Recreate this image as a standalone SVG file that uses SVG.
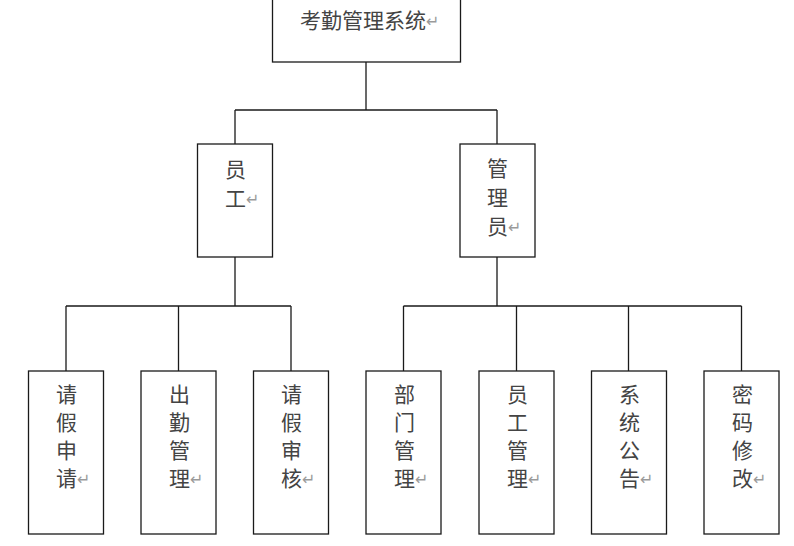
<svg xmlns="http://www.w3.org/2000/svg" width="794" height="546" viewBox="0 0 794 546">
<style>
.box{fill:#fff;stroke:#1a1a1a;stroke-width:1.3}
.ln{fill:none;stroke:#1a1a1a;stroke-width:1.3}
.t{font-family:"Noto Sans CJK SC","Liberation Sans",sans-serif;font-size:21px;fill:#444}
.r{font-family:"DejaVu Sans","Liberation Sans",sans-serif;font-size:16px;fill:#9a9a9a}
</style>
<rect width="794" height="546" fill="#fff"/>
<g id="connectors">
<path class="ln" d="M366 62V110M235 110H497M235 110V144M497 110V144"/>
<path class="ln" d="M235 257V306M66 306H291M66 306V371M178.5 306V371M291 306V371"/>
<path class="ln" d="M497 257V306M403.5 306H741.5M403.5 306V371M516.5 306V371M628.5 306V371M741.5 306V371"/>
</g>
<g id="root">
<rect class="box" x="272.5" y="-2" width="188" height="64"/>
<text class="t" x="300" y="28">考勤管理系统<tspan class="r" dy="-1">↵</tspan></text>
</g>
<g id="employee">
<rect class="box" x="197.5" y="144" width="75" height="113"/>
<text class="t" x="225" y="176.5">员<tspan x="225" dy="29">工</tspan><tspan class="r" dy="-1">↵</tspan></text>
</g>
<g id="admin">
<rect class="box" x="460" y="144" width="75" height="113"/>
<text class="t" x="487" y="176">管<tspan x="487" dy="29">理</tspan><tspan x="487" dy="29">员</tspan><tspan class="r" dy="-1">↵</tspan></text>
</g>
<g id="leave-apply">
<rect class="box" x="28.5" y="371" width="75" height="163"/>
<text class="t" x="56" y="401.5">请<tspan x="56" dy="28.3">假</tspan><tspan x="56" dy="28.3">申</tspan><tspan x="56" dy="28.3">请</tspan><tspan class="r" dy="-1">↵</tspan></text>
</g>
<g id="attendance">
<rect class="box" x="141" y="371" width="75" height="163"/>
<text class="t" x="169" y="401.5">出<tspan x="169" dy="28.3">勤</tspan><tspan x="169" dy="28.3">管</tspan><tspan x="169" dy="28.3">理</tspan><tspan class="r" dy="-1">↵</tspan></text>
</g>
<g id="leave-review">
<rect class="box" x="253.5" y="371" width="75" height="163"/>
<text class="t" x="281" y="401.5">请<tspan x="281" dy="28.3">假</tspan><tspan x="281" dy="28.3">审</tspan><tspan x="281" dy="28.3">核</tspan><tspan class="r" dy="-1">↵</tspan></text>
</g>
<g id="dept">
<rect class="box" x="366" y="371" width="75" height="163"/>
<text class="t" x="394" y="401.5">部<tspan x="394" dy="28.3">门</tspan><tspan x="394" dy="28.3">管</tspan><tspan x="394" dy="28.3">理</tspan><tspan class="r" dy="-1">↵</tspan></text>
</g>
<g id="staff">
<rect class="box" x="479" y="371" width="75" height="163"/>
<text class="t" x="507" y="401.5">员<tspan x="507" dy="28.3">工</tspan><tspan x="507" dy="28.3">管</tspan><tspan x="507" dy="28.3">理</tspan><tspan class="r" dy="-1">↵</tspan></text>
</g>
<g id="notice">
<rect class="box" x="591.5" y="371" width="75" height="163"/>
<text class="t" x="619" y="401.5">系<tspan x="619" dy="28.3">统</tspan><tspan x="619" dy="28.3">公</tspan><tspan x="619" dy="28.3">告</tspan><tspan class="r" dy="-1">↵</tspan></text>
</g>
<g id="password">
<rect class="box" x="704" y="371" width="75" height="163"/>
<text class="t" x="732" y="401.5">密<tspan x="732" dy="28.3">码</tspan><tspan x="732" dy="28.3">修</tspan><tspan x="732" dy="28.3">改</tspan><tspan class="r" dy="-1">↵</tspan></text>
</g>
</svg>
